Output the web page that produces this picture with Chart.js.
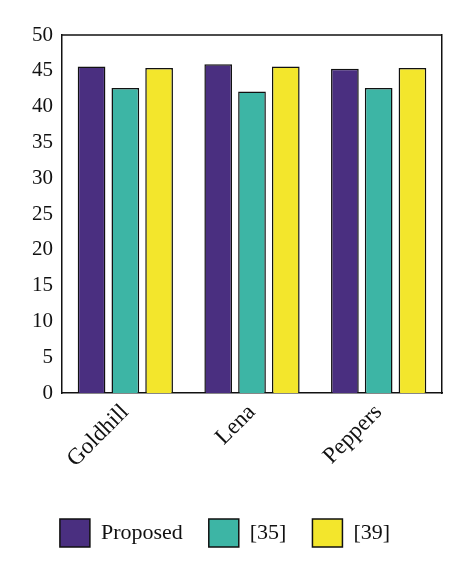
<!DOCTYPE html>
<html><head><meta charset="utf-8">
<script src="https://cdn.jsdelivr.net/npm/chart.js@4/dist/chart.umd.min.js"></script>
<style>html,body{margin:0;padding:0;background:#fff}#w{width:474px;height:575px}</style>
</head><body><div id="w"><canvas id="c"></canvas></div>
<script>
const categories=["Goldhill","Lena","Peppers"];
const proposed=[45.6,45.9,45.3];
const ref35=[42.6,42.1,42.6];
const ref39=[45.4,45.6,45.4];
const seriesNames=["Proposed","[35]","[39]"];
const F="'Liberation Serif', serif";
new Chart(document.getElementById('c'),{
type:'bar',
data:{labels:categories,datasets:[
{label:seriesNames[0],data:proposed,backgroundColor:'#4a2f80'},
{label:seriesNames[1],data:ref35,backgroundColor:'#3db5a5'},
{label:seriesNames[2],data:ref39,backgroundColor:'#f3e62c'}
].map(d=>Object.assign(d,{borderColor:'#111',borderWidth:1.5,categoryPercentage:0.8,barPercentage:0.82}))},
options:{responsive:true,maintainAspectRatio:false,animation:false,
layout:{padding:{left:8,right:32,top:35,bottom:18}},
plugins:{legend:{position:'bottom',labels:{font:{family:F,size:22},color:'#111',boxWidth:30,boxHeight:28,padding:26,useBorderRadius:false}},tooltip:{enabled:false}},
scales:{
x:{grid:{display:false,drawTicks:false},border:{color:'#111',width:1.5},afterFit:a=>{a.height=100},
ticks:{font:{family:F,size:23},color:'#111',maxRotation:45,minRotation:45,padding:6}},
y:{min:0,max:50,afterFit:a=>{a.width=54},
ticks:{stepSize:5,font:{family:F,size:21},color:'#111',padding:4},
grid:{display:false,drawTicks:true,tickLength:5,tickColor:'#111'},border:{color:'#111',width:1.5}},
y2:{position:'right',min:0,max:50,ticks:{display:false,stepSize:5},grid:{display:false,drawTicks:false},border:{color:'#111',width:1.5}}
}},
plugins:[{id:'frame',afterDraw(c){const a=c.chartArea,x=c.ctx;x.save();x.strokeStyle='#111';x.lineWidth=1.5;x.beginPath();x.moveTo(a.left,a.top);x.lineTo(a.right,a.top);x.stroke();x.restore();}}]
});
</script></body></html>
